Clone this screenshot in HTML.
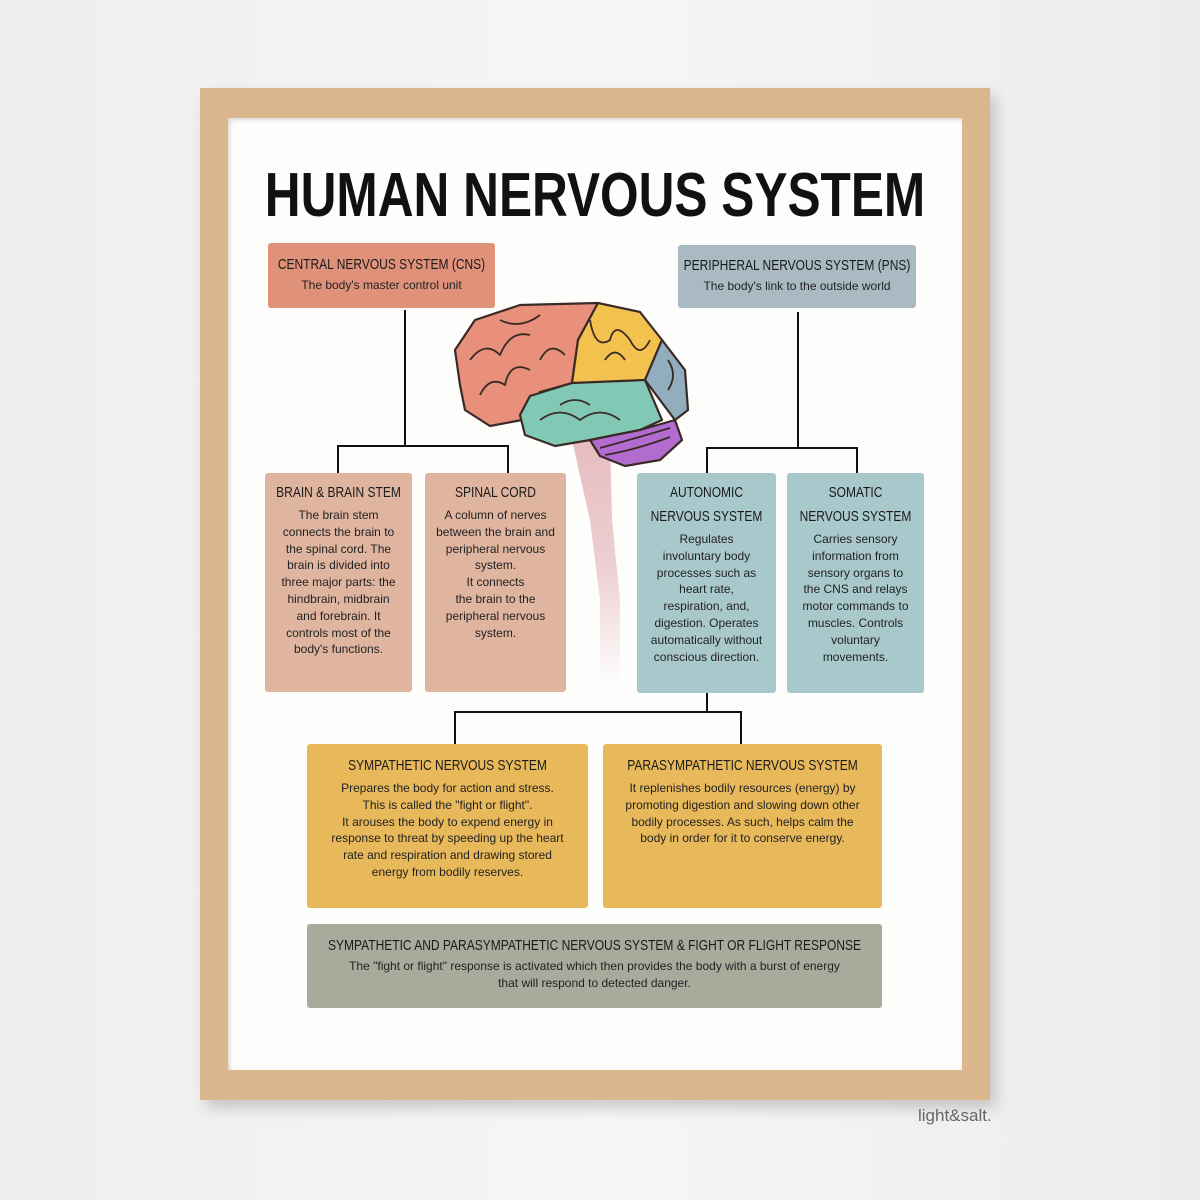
<!DOCTYPE html>
<html><head><meta charset="utf-8"><style>
body{margin:0;width:1200px;height:1200px;overflow:hidden;background:linear-gradient(90deg,#eeeeec,#f6f6f4 50%,#ececea);font-family:"Liberation Sans",sans-serif;position:relative}
.frame{position:absolute;left:200px;top:88px;width:790px;height:1012px;background:#dcb68c;box-shadow:6px 8px 14px rgba(0,0,0,.18)}
.mat{position:absolute;left:228px;top:118px;width:734px;height:952px;background:#fdfdfc;box-shadow:inset 2px 2px 4px rgba(0,0,0,.15)}
.b{position:absolute;box-sizing:border-box;text-align:center;color:#222;font-size:12px;line-height:16.8px;padding-top:8px;border-radius:3px}
.h{font-size:15px;white-space:nowrap;transform:scaleX(.8);margin:0 -120px 2px;color:#1a1a1a;line-height:24px}
.l{position:absolute;background:#111}
</style></head><body>
<div class="frame"></div><div class="mat"></div>
<div style="position:absolute;left:128px;width:934px;top:160px;text-align:center;font-weight:bold;font-size:62px;white-space:nowrap;color:#111;transform:scaleX(.8)">HUMAN NERVOUS SYSTEM</div>

<div class="b" style="left:268px;top:243px;width:227px;height:65px;background:#e0917a;padding-top:10px"><div class="h" style="margin-bottom:0">CENTRAL NERVOUS SYSTEM (CNS)</div>The body's master control unit</div>
<div class="b" style="left:678px;top:245px;width:238px;height:63px;background:#a9bac3;padding-top:9px"><div class="h" style="margin-bottom:0">PERIPHERAL NERVOUS SYSTEM (PNS)</div>The body's link to the outside world</div>

<div class="l" style="left:404px;top:310px;width:2px;height:137px"></div>
<div class="l" style="left:337px;top:445px;width:172px;height:2px"></div>
<div class="l" style="left:337px;top:445px;width:2px;height:28px"></div>
<div class="l" style="left:507px;top:445px;width:2px;height:28px"></div>
<div class="l" style="left:797px;top:312px;width:2px;height:137px"></div>
<div class="l" style="left:706px;top:447px;width:152px;height:2px"></div>
<div class="l" style="left:706px;top:447px;width:2px;height:26px"></div>
<div class="l" style="left:856px;top:447px;width:2px;height:26px"></div>
<div class="l" style="left:706px;top:693px;width:2px;height:20px"></div>
<div class="l" style="left:454px;top:711px;width:288px;height:2px"></div>
<div class="l" style="left:454px;top:711px;width:2px;height:34px"></div>
<div class="l" style="left:740px;top:711px;width:2px;height:34px"></div>

<svg style="position:absolute;left:0;top:0" width="1200" height="1200">
<defs><linearGradient id="g" x1="0" y1="0" x2="0" y2="1"><stop offset="0" stop-color="#e8bcc0"/><stop offset=".5" stop-color="#eccfd1"/><stop offset="1" stop-color="#fff"/></linearGradient></defs>
<path d="M572,440 L610,440 L612,520 L620,600 L620,690 L600,690 L600,600 L590,520 Z" fill="url(#g)"/>
<g stroke="#3a2a25" stroke-width="2.2" stroke-linejoin="round">
<path d="M460,385 L455,350 L475,320 L520,305 L598,303 L578,340 L572,383 L540,392 L522,420 L490,426 L465,410 Z" fill="#e8907c"/>
<path d="M598,303 L640,312 L662,340 L645,380 L600,385 L572,383 L578,340 Z" fill="#f2c14e"/>
<path d="M662,340 L685,370 L688,410 L675,420 L645,380 Z" fill="#92adbe"/>
<path d="M530,396 L572,383 L645,380 L662,420 L640,430 L590,440 L555,446 L525,435 L520,415 Z" fill="#82c9b5"/>
<path d="M590,440 L640,430 L675,420 L682,440 L660,460 L625,466 L600,456 Z" fill="#b26cd0"/>
<g fill="none" stroke-width="1.8">
<path d="M470,360 q15,-20 30,-5 q10,-25 30,-20 M480,395 q10,-20 25,-10 q5,-25 25,-15 M500,320 q20,10 40,-5 M540,360 q10,-20 25,-5"/>
<path d="M590,320 q5,30 20,20 q5,-20 20,0 q10,20 20,0 M605,360 q10,-15 20,0"/>
<path d="M540,420 q20,-15 40,0 q20,-15 40,0 M560,405 q15,-10 30,0"/>
<path d="M600,448 q30,-8 70,-20 M605,455 q30,-5 65,-18"/>
<path d="M668,360 q10,15 0,30"/>
</g></g></svg>

<div class="b" style="left:265px;top:473px;width:147px;height:219px;background:#dfb5a0;padding:8px 14px 0"><div class="h">BRAIN &amp; BRAIN STEM</div>The brain stem connects the brain to the spinal cord. The brain is divided into three major parts: the hindbrain, midbrain and forebrain. It controls most of the body's functions.</div>
<div class="b" style="left:425px;top:473px;width:141px;height:219px;background:#dfb5a0;padding:8px 10px 0"><div class="h">SPINAL CORD</div>A column of nerves between the brain and peripheral nervous system.<br>It connects<br>the brain to the peripheral nervous system.</div>
<div class="b" style="left:637px;top:473px;width:139px;height:220px;background:#a9c8cc;padding:8px 12px 0"><div class="h">AUTONOMIC<br>NERVOUS SYSTEM</div>Regulates involuntary body processes such as heart rate, respiration, and, digestion. Operates automatically without conscious direction.</div>
<div class="b" style="left:787px;top:473px;width:137px;height:220px;background:#a9c8cc;padding:8px 12px 0"><div class="h">SOMATIC<br>NERVOUS SYSTEM</div>Carries sensory information from sensory organs to the CNS and relays motor commands to muscles. Controls voluntary movements.</div>

<div class="b" style="left:307px;top:744px;width:281px;height:164px;background:#e8b95a;padding:10px 22px 0"><div class="h">SYMPATHETIC NERVOUS SYSTEM</div>Prepares the body for action and stress. This is called the "fight or flight".<br>It arouses the body to expend energy in response to threat by speeding up the heart rate and respiration and drawing stored energy from bodily reserves.</div>
<div class="b" style="left:603px;top:744px;width:279px;height:164px;background:#e8b95a;padding:10px 22px 0"><div class="h">PARASYMPATHETIC NERVOUS SYSTEM</div>It replenishes bodily resources (energy) by promoting digestion and slowing down other bodily processes. As such, helps calm the body in order for it to conserve energy.</div>
<div class="b" style="left:307px;top:924px;width:575px;height:84px;background:#a7ab9c;padding:10px 40px 0"><div class="h" style="margin-bottom:0">SYMPATHETIC AND PARASYMPATHETIC NERVOUS SYSTEM &amp; FIGHT OR FLIGHT RESPONSE</div>The "fight or flight" response is activated which then provides the body with a burst of energy that will respond to detected danger.</div>

<div style="position:absolute;left:918px;top:1106px;font-size:17px;color:#666">light&amp;salt.</div>
</body></html>
